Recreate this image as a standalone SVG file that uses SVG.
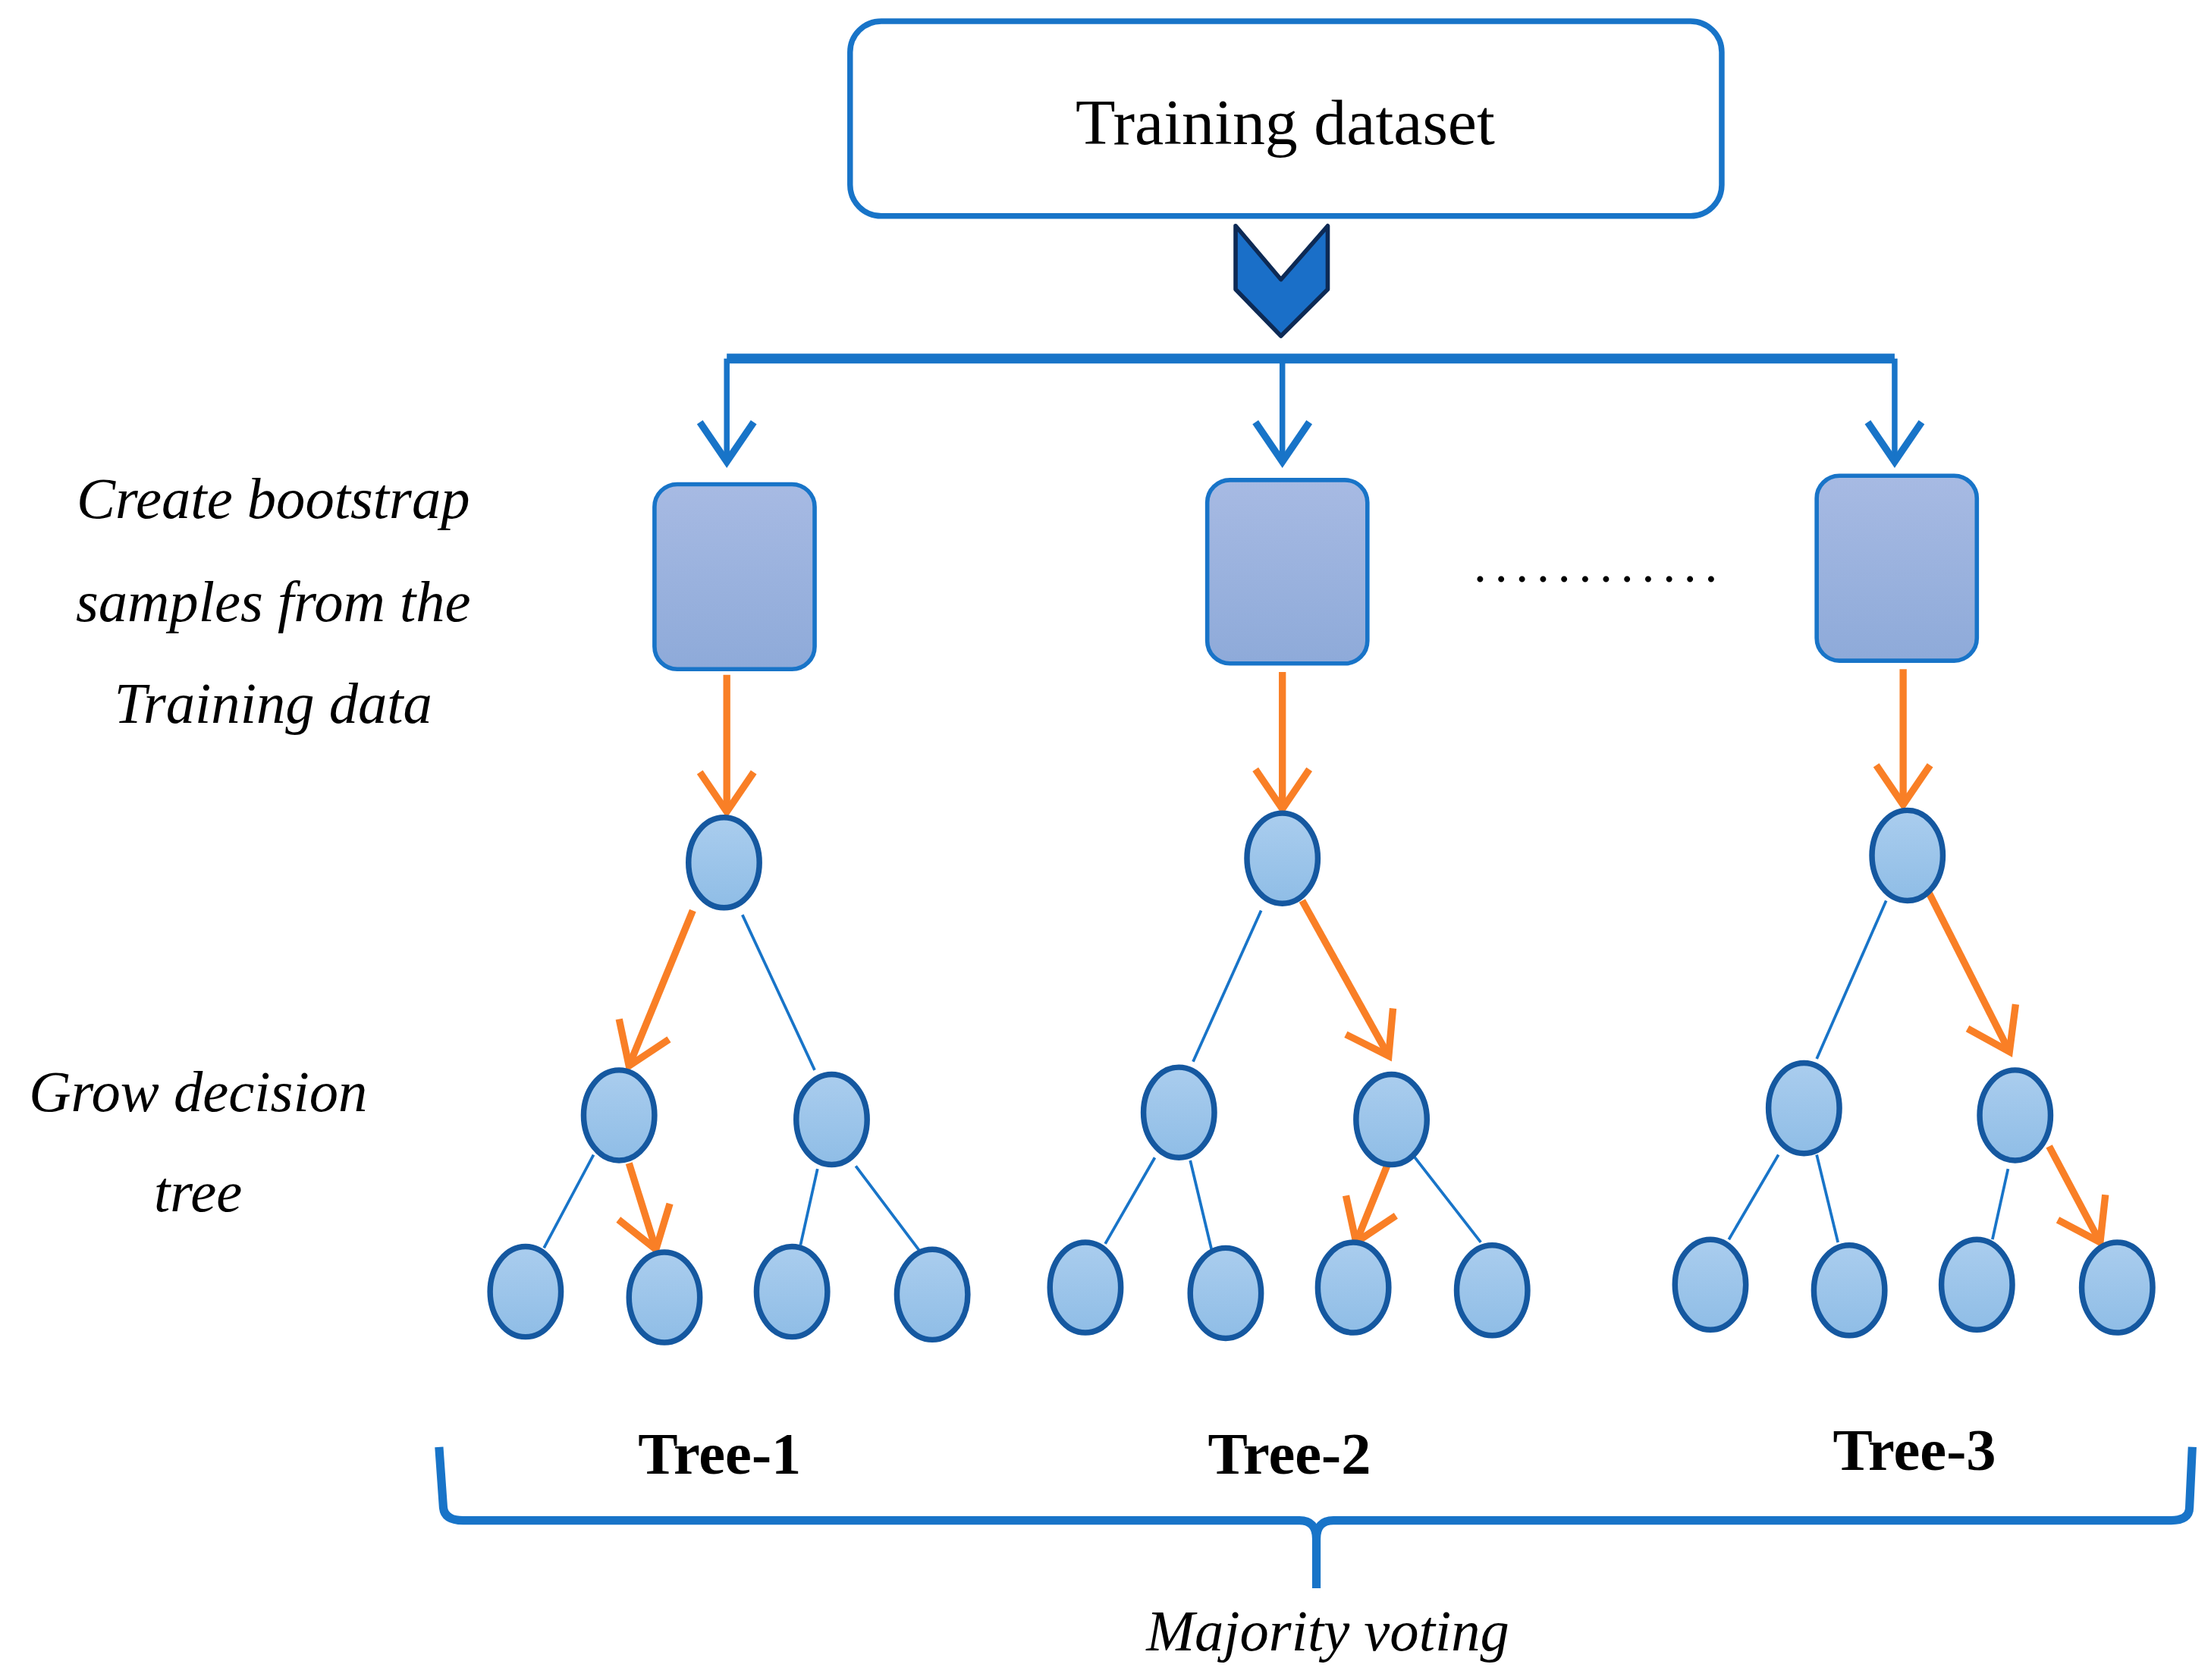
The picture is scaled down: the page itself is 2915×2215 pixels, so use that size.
<svg xmlns="http://www.w3.org/2000/svg" width="2915" height="2215" viewBox="0 0 2915 2215">
<style>
.t{font-family:"Liberation Serif","Times New Roman",serif;fill:#000}
.it{font-style:italic;font-size:41px;text-anchor:middle}
.bd{font-weight:bold;font-size:42px;text-anchor:middle}
.box{fill:url(#gb);stroke:#1874c8;stroke-width:3}
.nd{fill:url(#gn);stroke:#1558a0;stroke-width:4}
.bl{stroke:#1874c8;stroke-width:2;fill:none}
.or{stroke:#f97f26;stroke-width:5;fill:none;marker-end:url(#ao)}
.bv{stroke:#1874c8;stroke-width:4;fill:none;marker-end:url(#ab)}
</style>
<defs>
<linearGradient id="gb" x1="0" y1="0" x2="0" y2="1"><stop offset="0" stop-color="#a7bae3"/><stop offset="1" stop-color="#8eaad9"/></linearGradient>
<linearGradient id="gn" x1="0" y1="0" x2="0" y2="1"><stop offset="0" stop-color="#aacdee"/><stop offset="1" stop-color="#8fbde6"/></linearGradient>
<marker id="ao" markerWidth="10" markerHeight="10" refX="9" refY="5" orient="auto" markerUnits="userSpaceOnUse" viewBox="0 0 10 10" overflow="visible"><path d="M-28,-14 L0,5 L-28,24" transform="translate(9,0)" fill="none" stroke="#f97f26" stroke-width="5"/></marker>
<marker id="ab" markerWidth="10" markerHeight="10" refX="9" refY="5" orient="auto" markerUnits="userSpaceOnUse" viewBox="0 0 10 10" overflow="visible"><path d="M-28,-14 L0,5 L-28,24" transform="translate(9,0)" fill="none" stroke="#1874c8" stroke-width="5"/></marker>
</defs>
<rect width="2915" height="2215" fill="#fff"/>
<g transform="translate(-6,0) scale(1.8686 1.8613)">
<g id="training">
<rect x="603" y="15" width="615" height="138" rx="22" fill="#fff" stroke="#1874c8" stroke-width="4"/>
<text class="t" x="910" y="102" font-size="46" text-anchor="middle">Training dataset</text>
</g>
<g id="chevron"><polygon points="875,160 907,198 940,160 940,205 907,238 875,205" fill="#1a6fc8" stroke="#0d2a55" stroke-width="3" stroke-linejoin="round"/></g>
<g id="connectors">
<line x1="516" y1="254" x2="1340" y2="254" stroke="#1874c8" stroke-width="7"/>
<path class="bv" d="M516,254 V327"/>
<path class="bv" d="M908,254 V327"/>
<path class="bv" d="M1340,254 V327"/>
<path class="or" d="M516,478 V575"/>
<path class="or" d="M908,476 V573"/>
<path class="or" d="M1346,474 V570"/>
<path class="or" d="M492,645 L447,755"/>
<path class="bl" d="M527,648 L578,758"/>
<path class="bl" d="M422,818 L387,884"/>
<path class="or" d="M447,824 L466,885"/>
<path class="bl" d="M580,828 L568,882"/>
<path class="bl" d="M607,826 L652,886"/>
<path class="bl" d="M893,645 L845,752"/>
<path class="or" d="M922,638 L983,748"/>
<path class="bl" d="M818,820 L783,881"/>
<path class="bl" d="M843,822 L858,885"/>
<path class="or" d="M983,823 L960,880"/>
<path class="bl" d="M1000,818 L1048,880"/>
<path class="bl" d="M1334,638 L1285,750"/>
<path class="or" d="M1364,632 L1421,745"/>
<path class="bl" d="M1258,818 L1223,878"/>
<path class="bl" d="M1285,818 L1300,880"/>
<path class="bl" d="M1420,828 L1409,878"/>
<path class="or" d="M1449,812 L1485,880"/>
</g>
<g id="boxes">
<rect class="box" x="465" y="343" width="113" height="131" rx="16"/>
<rect class="box" x="855" y="340" width="113" height="130" rx="16"/>
<rect class="box" x="1285" y="337" width="113" height="131" rx="16"/>
</g>
<text class="t" x="1043" y="412" font-size="36" textLength="172" lengthAdjust="spacing">............</text>
<g id="tree1">
<ellipse class="nd" cx="514" cy="611" rx="25" ry="32"/>
<ellipse class="nd" cx="440" cy="790" rx="25" ry="32"/>
<ellipse class="nd" cx="590" cy="793" rx="25" ry="32"/>
<ellipse class="nd" cx="374" cy="915" rx="25" ry="32"/>
<ellipse class="nd" cx="472" cy="919" rx="25" ry="32"/>
<ellipse class="nd" cx="562" cy="915" rx="25" ry="32"/>
<ellipse class="nd" cx="661" cy="917" rx="25" ry="32"/>
</g>
<g id="tree2">
<ellipse class="nd" cx="908" cy="608" rx="25" ry="32"/>
<ellipse class="nd" cx="835" cy="788" rx="25" ry="32"/>
<ellipse class="nd" cx="985" cy="793" rx="25" ry="32"/>
<ellipse class="nd" cx="769" cy="912" rx="25" ry="32"/>
<ellipse class="nd" cx="868" cy="916" rx="25" ry="32"/>
<ellipse class="nd" cx="958" cy="912" rx="25" ry="32"/>
<ellipse class="nd" cx="1056" cy="914" rx="25" ry="32"/>
</g>
<g id="tree3">
<ellipse class="nd" cx="1349" cy="606" rx="25" ry="32"/>
<ellipse class="nd" cx="1276" cy="785" rx="25" ry="32"/>
<ellipse class="nd" cx="1425" cy="790" rx="25" ry="32"/>
<ellipse class="nd" cx="1210" cy="910" rx="25" ry="32"/>
<ellipse class="nd" cx="1308" cy="914" rx="25" ry="32"/>
<ellipse class="nd" cx="1398" cy="910" rx="25" ry="32"/>
<ellipse class="nd" cx="1497" cy="912" rx="25" ry="32"/>
</g>
<g id="labels">
<text class="t it" x="196" y="367">Create bootstrap</text>
<text class="t it" x="196" y="440">samples from the</text>
<text class="t it" x="196" y="512">Training data</text>
<text class="t it" x="143" y="787">Grow decision</text>
<text class="t it" x="143" y="858">tree</text>
<text class="t bd" x="511" y="1044">Tree-1</text>
<text class="t bd" x="913" y="1044">Tree-2</text>
<text class="t bd" x="1354" y="1041">Tree-3</text>
<text class="t it" x="940" y="1169">Majority voting</text>
</g>
<g id="brace"><path d="M313,1025 L316,1068 Q317,1077 330,1077 L920,1077 Q932,1077 932,1090 L932,1125 M932,1090 Q932,1077 944,1077 L1535,1077 Q1548,1077 1548,1068 L1550,1025" fill="none" stroke="#1874c8" stroke-width="6"/></g>
</g>
</svg>
